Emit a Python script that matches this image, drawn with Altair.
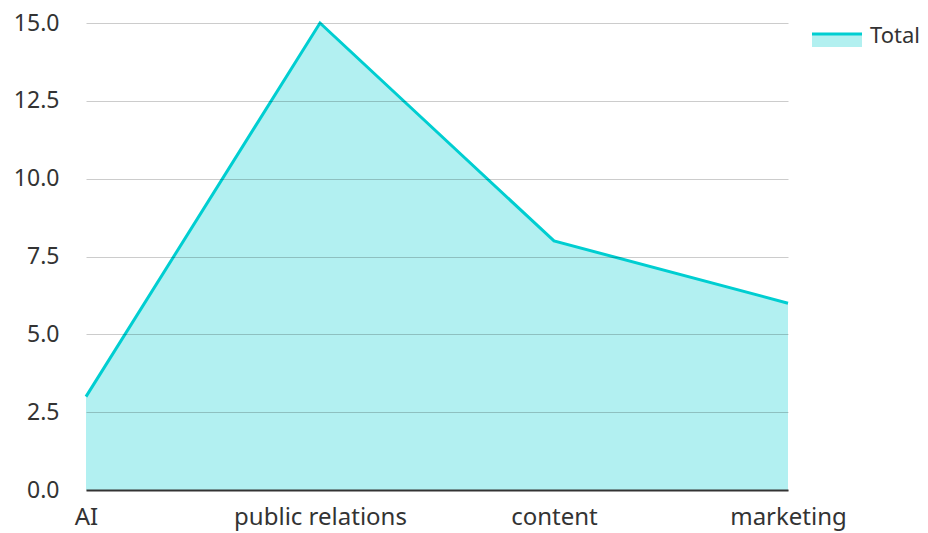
import altair as alt
import pandas as pd

categories = ["AI", "public relations", "content", "marketing"]
values = [3, 15, 8, 6]
series_name = "Total"
y_ticks = [0, 2.5, 5, 7.5, 10, 12.5, 15]

LINE = "#00CED1"
FILL = "#B2F0F0"
FONT = "Noto Sans"

df = pd.DataFrame({"category": categories, "value": values})

x_enc = alt.X("category:N", sort=categories,
              scale=alt.Scale(type="point", padding=0),
              axis=alt.Axis(title=None, labelAngle=0, ticks=False, domain=True,
                            domainColor="#333333", domainWidth=2, grid=False,
                            labelFontSize=24, labelColor="#333333", labelFont=FONT,
                            labelPadding=15, zindex=1))
y_enc = alt.Y("value:Q", scale=alt.Scale(domain=[0, 15], nice=False),
              axis=alt.Axis(title=None, values=y_ticks, format=".1f", ticks=False,
                            domain=False, grid=True, gridColor="#000000", gridOpacity=0.2,
                            labelFontSize=23, labelColor="#333333", labelFont=FONT,
                            labelPadding=27, zindex=1))

base = alt.Chart(df)
area = base.mark_area(color=LINE, opacity=0.3).encode(x=x_enc, y=y_enc)
line = base.mark_line(color=LINE, strokeWidth=3).encode(x=x_enc, y=y_enc)

leg = pd.DataFrame({"name": [series_name]})
leg_rect = alt.Chart(leg).mark_rect(color=FILL).encode(
    x=alt.value(726), x2=alt.value(776), y=alt.value(11), y2=alt.value(24))
leg_line = alt.Chart(leg).mark_rule(color=LINE, strokeWidth=3).encode(
    x=alt.value(726), x2=alt.value(776), y=alt.value(11))
leg_text = alt.Chart(leg).mark_text(align="left", baseline="middle", fontSize=22,
                                    font=FONT, color="#333333").encode(
    x=alt.value(784), y=alt.value(13), text="name:N")

chart = alt.layer(area, line, leg_rect, leg_line, leg_text).properties(
    width=702, height=467,
    autosize=alt.AutoSizeParams(type="none"),
    padding={"left": 78, "top": 15, "right": 132, "bottom": 45},
).configure_view(stroke=None)

chart.save("out.html", embed_options={"renderer": "svg", "actions": False})
